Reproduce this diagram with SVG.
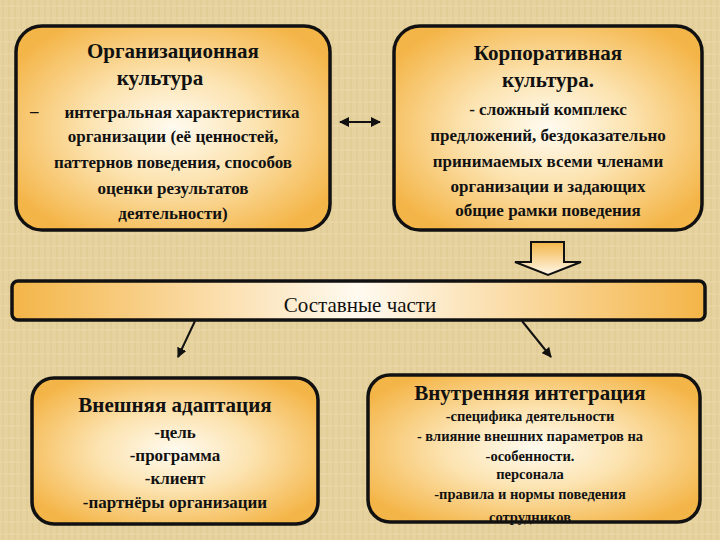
<svg xmlns="http://www.w3.org/2000/svg" width="720" height="540" viewBox="0 0 720 540">
<defs>
<radialGradient id="g" cx="50%" cy="50%" r="60%"><stop offset="0" stop-color="#FFFBF0"/><stop offset="0.45" stop-color="#FCE3B0"/><stop offset="1" stop-color="#F4B548"/></radialGradient>
<linearGradient id="bar" x1="0" x2="1" y1="0" y2="0"><stop offset="0" stop-color="#F4B548"/><stop offset="0.5" stop-color="#FFFAF0"/><stop offset="1" stop-color="#F4B548"/></linearGradient>
<linearGradient id="ba" x1="0" x2="0" y1="0" y2="1"><stop offset="0" stop-color="#F4B548"/><stop offset="1" stop-color="#FFF8EA"/></linearGradient>
<marker id="ah" viewBox="0 0 10 10" refX="9" refY="5" markerWidth="5" markerHeight="5" orient="auto-start-reverse"><path d="M0,0 L10,5 L0,10 z" fill="#111"/></marker>
<pattern id="tex" width="12" height="12" patternUnits="userSpaceOnUse"><rect width="12" height="12" fill="#E6D29E"/><path d="M3,0 V12 M9,0 V12" stroke="#D9C286" stroke-width="1" opacity="0.6"/><path d="M0,6 H12" stroke="#F0E0B4" stroke-width="1" opacity="0.6"/></pattern>
</defs>
<style>
.box{fill:url(#g);stroke:#111;stroke-width:3.5}
.t{font-family:"Liberation Serif","DejaVu Serif",serif;fill:#111;text-anchor:middle;font-weight:bold}
.h{font-size:21px}
.s{font-size:17px}
.x{font-size:14.5px}
.c{stroke:#111;stroke-width:2;fill:none}
</style>
<rect width="720" height="540" fill="url(#tex)"/>
<g id="org">
<rect class="box" x="16" y="26" width="314" height="204" rx="26"/>
<text class="t h" x="173" y="58">Организационная</text>
<text class="t h" x="160" y="85">культура</text>
<text class="t s" x="182" y="118">интегральная характеристика</text>
<text class="t s" x="30" y="117" style="text-anchor:start">–</text>
<text class="t s" x="173" y="142">организации (её ценностей,</text>
<text class="t s" x="173" y="168">паттернов поведения, способов</text>
<text class="t s" x="173" y="194">оценки результатов</text>
<text class="t s" x="173" y="219">деятельности)</text>
</g>
<g id="corp">
<rect class="box" x="394" y="26" width="308" height="204" rx="26"/>
<text class="t h" x="548" y="60">Корпоративная</text>
<text class="t h" x="548" y="87">культура.</text>
<text class="t s" x="548" y="115">- сложный комплекс</text>
<text class="t s" x="548" y="141">предложений, бездоказательно</text>
<text class="t s" x="548" y="167">принимаемых всеми членами</text>
<text class="t s" x="548" y="192">организации и задающих</text>
<text class="t s" x="548" y="216">общие рамки поведения</text>
</g>
<g id="parts">
<rect x="12" y="281" width="693" height="39" rx="6" fill="url(#bar)" stroke="#111" stroke-width="3.5"/>
<text class="t" x="360" y="312" style="font-size:21px;font-weight:normal">Составные части</text>
</g>
<g id="ext">
<rect class="box" x="32" y="378" width="286" height="146" rx="22"/>
<text class="t h" x="175" y="412">Внешняя адаптация</text>
<text class="t s" x="175" y="438">-цель</text>
<text class="t s" x="175" y="461">-программа</text>
<text class="t s" x="175" y="484">-клиент</text>
<text class="t s" x="175" y="508">-партнёры организации</text>
</g>
<g id="int">
<rect class="box" x="368" y="375" width="332" height="147" rx="22"/>
<text class="t h" x="530" y="400">Внутренняя интеграция</text>
<text class="t x" x="530" y="421">-специфика деятельности</text>
<text class="t x" x="530" y="441">- влияние внешних параметров на</text>
<text class="t x" x="530" y="461">-особенности.</text>
<text class="t x" x="530" y="479">персонала</text>
<text class="t x" x="530" y="499">-правила и нормы поведения</text>
<text class="t x" x="530" y="522">сотрудников</text>
</g>
<g id="connectors">
<line class="c" x1="340" y1="122" x2="380" y2="122" marker-start="url(#ah)" marker-end="url(#ah)"/>
<path d="M531,242 H564 V262 H581 L548,275 L515,262 H531 Z" fill="url(#ba)" stroke="#111" stroke-width="2"/>
<line class="c" x1="195" y1="321" x2="178" y2="357" marker-end="url(#ah)"/>
<line class="c" x1="522" y1="321" x2="551" y2="357" marker-end="url(#ah)"/>
</g>
</svg>
